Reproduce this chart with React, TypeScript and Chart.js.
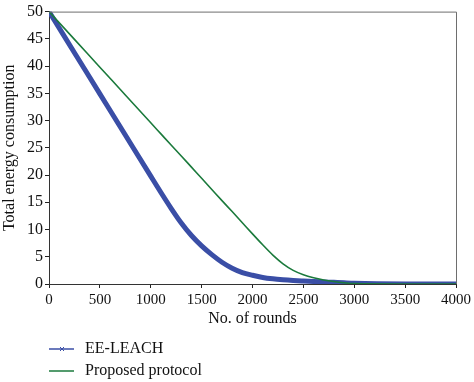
import React, { useEffect, useRef } from "react";
import { Chart, registerables } from "chart.js";

Chart.register(...registerables);

const rounds = [0, 250, 500, 750, 1000, 1100, 1200, 1300, 1400, 1500, 1600, 1700, 1800, 1900, 2000, 2100, 2200, 2300, 2400, 2500, 2600, 2700, 2800, 2900, 3000, 3500, 4000];
const eeLeach = [50, 42.45, 34.9, 27.35, 19.8, 16.8, 13.9, 11.2, 8.9, 7.0, 5.4, 4.0, 2.9, 2.1, 1.6, 1.2, 0.95, 0.78, 0.65, 0.55, 0.46, 0.38, 0.3, 0.22, 0.15, 0.02, 0];
const proposed = [50, 44.9, 39.8, 34.7, 29.6, 27.55, 25.5, 23.5, 21.45, 19.4, 17.35, 15.3, 13.3, 11.25, 9.2, 7.2, 5.3, 3.7, 2.5, 1.7, 1.15, 0.75, 0.45, 0.22, 0.06, 0, 0];
const seriesNames = ["EE-LEACH", "Proposed protocol"];
const xTicks = [0, 500, 1000, 1500, 2000, 2500, 3000, 3500, 4000];

const BLUE = "#3a4ea6";
const GREEN = "#1b7a3c";
const FONT = "'Liberation Serif', 'Times New Roman', serif";

export default function App() {
  const ref = useRef<HTMLCanvasElement | null>(null);

  useEffect(() => {
    document.body.style.margin = "0";
    const canvas = ref.current;
    if (!canvas) return;

    const frame = {
      id: "frame",
      afterDatasetsDraw(chart: any) {
        const { ctx, chartArea } = chart;
        ctx.save();
        ctx.strokeStyle = "#6e6e6e";
        ctx.lineWidth = 1;
        ctx.beginPath();
        ctx.moveTo(chartArea.left, chartArea.top + 0.5);
        ctx.lineTo(chartArea.right + 0.5, chartArea.top + 0.5);
        ctx.lineTo(chartArea.right + 0.5, chartArea.bottom);
        ctx.stroke();
        ctx.restore();
      },
      afterDraw(chart: any) {
        const { ctx } = chart;
        ctx.save();
        ctx.font = `16px ${FONT}`;
        ctx.textBaseline = "middle";
        ctx.fillStyle = "#111";
        const items = [
          { label: seriesNames[0], color: BLUE, y: 349, marker: true },
          { label: seriesNames[1], color: GREEN, y: 371, marker: false },
        ];
        for (const it of items) {
          ctx.strokeStyle = it.color;
          ctx.lineWidth = 1.5;
          ctx.beginPath();
          ctx.moveTo(49, it.y);
          ctx.lineTo(74, it.y);
          ctx.stroke();
          if (it.marker) {
            ctx.lineWidth = 1;
            ctx.beginPath();
            ctx.moveTo(60, it.y - 2);
            ctx.lineTo(64, it.y + 2);
            ctx.moveTo(60, it.y + 2);
            ctx.lineTo(64, it.y - 2);
            ctx.stroke();
          }
          ctx.fillText(it.label, 85, it.y);
        }
        ctx.restore();
      },
    };

    const chart = new Chart(canvas, {
      type: "line",
      data: {
        datasets: [
          {
            label: seriesNames[0],
            data: rounds.map((r, i) => ({ x: r, y: eeLeach[i] })),
            borderColor: BLUE,
            borderWidth: 5,
            pointRadius: 0,
            cubicInterpolationMode: "monotone",
            fill: false,
            order: 2,
          },
          {
            label: seriesNames[1],
            data: rounds.map((r, i) => ({ x: r, y: proposed[i] })),
            borderColor: GREEN,
            borderWidth: 1.6,
            pointRadius: 0,
            cubicInterpolationMode: "monotone",
            fill: false,
            order: 1,
          },
        ],
      },
      options: {
        animation: false,
        responsive: false,
        maintainAspectRatio: false,
        layout: { padding: { left: 0, top: 9, right: 17, bottom: 54 } },
        plugins: {
          legend: { display: false },
          tooltip: { enabled: false },
        },
        scales: {
          x: {
            type: "linear",
            min: 0,
            max: 4000,
            afterBuildTicks(scale: any) {
              scale.ticks = xTicks.map((v) => ({ value: v }));
            },
            afterFit(scale: any) {
              scale.height = 44;
            },
            grid: { drawOnChartArea: false, drawTicks: true, tickLength: 4, color: "#222" },
            border: { color: "#333", width: 1 },
            ticks: {
              padding: 3,
              maxRotation: 0,
              autoSkip: false,
              color: "#111",
              font: { family: FONT, size: 15 },
              callback: (v: any) => String(v),
            },
            title: {
              display: true,
              text: "No. of rounds",
              color: "#111",
              padding: { top: 0, bottom: 0 },
              font: { family: FONT, size: 16 },
            },
          },
          y: {
            min: 0,
            max: 50,
            afterFit(scale: any) {
              scale.width = 49;
            },
            grid: { drawOnChartArea: false, drawTicks: true, tickLength: 4, color: "#222" },
            border: { color: "#333", width: 1 },
            ticks: {
              stepSize: 5,
              padding: 2,
              color: "#111",
              font: { family: FONT, size: 16 },
              callback: (v: any) => String(v),
            },
            title: {
              display: true,
              text: "Total energy consumption",
              color: "#111",
              padding: { top: 0, bottom: 0 },
              font: { family: FONT, size: 16 },
            },
          },
        },
      },
      plugins: [frame],
    } as any);

    return () => chart.destroy();
  }, []);

  return (
    <div style={{ width: 474, height: 382 }}>
      <canvas ref={ref} width={474} height={382} style={{ display: "block" }} />
    </div>
  );
}
